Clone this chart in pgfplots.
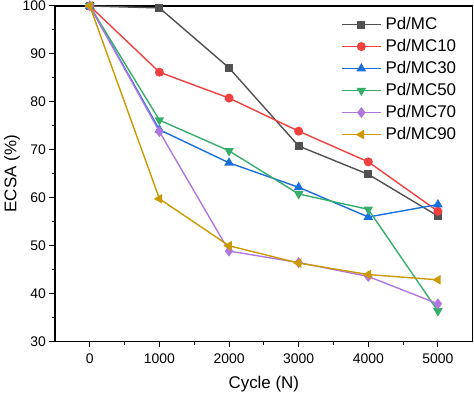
\documentclass[border=0pt]{standalone}
\usepackage{fontspec}
\setmainfont{Liberation Sans}
\usepackage{pgfplots}
\pgfplotsset{compat=1.18}
\definecolor{cgray}{HTML}{515151}
\definecolor{cred}{HTML}{F14040}
\definecolor{cblue}{HTML}{1A6FDF}
\definecolor{cgreen}{HTML}{37AD6B}
\definecolor{cpurple}{HTML}{B177DE}
\definecolor{cgold}{HTML}{CC9900}
\begin{document}
\begin{tikzpicture}
\begin{axis}[
  scale only axis,
  width=417.7bp, height=335.7bp,
  xmin=-500, xmax=5500,
  ymin=30, ymax=100,
  xtick={0,1000,2000,3000,4000,5000},
  ytick={30,40,50,60,70,80,90,100},
  minor x tick num=1,
  minor y tick num=1,
  xtick pos=bottom, ytick pos=left,
  tick align=outside,
  major tick length=5.5bp,
  minor tick length=3bp,
  every tick/.style={black, line width=1bp},
  axis line style={black, line width=1.3bp},
  /pgf/number format/assume math mode=true,
  /pgf/number format/1000 sep={},
  tick label style={font=\fontsize{14}{16}\selectfont},
  xticklabel style={yshift=-3bp},
  label style={font=\fontsize{17}{20}\selectfont},
  xlabel={Cycle (N)},
  ylabel={ECSA (\%)},
  xlabel style={at={(axis description cs:0.5,-0.126)}, anchor=center},
  ylabel style={at={(axis description cs:-0.103,0.5)}, anchor=center},
  clip mode=individual,
  legend style={draw=none, fill=none, inner sep=0pt, outer sep=0pt,
    at={(axis description cs:0.685,0.967)}, anchor=north west,
    font=\fontsize{17}{20}\selectfont, row sep=7.0bp, column sep=0bp,
    nodes={inner sep=0pt, text height=12bp, text depth=3bp}},
  legend cell align=left,
  legend image code/.code={\draw[mark repeat=2, mark phase=2] plot coordinates {(0bp,0bp) (19.5bp,0bp) (39bp,0bp)};},
  every axis plot/.append style={line width=1.4bp},
  mark size=3.5bp,
]
\addplot[cgray, mark=square*, mark size=3.3bp, mark options={solid, fill=cgray}] coordinates {
 (0,100) (1000,99.6) (2000,87.1) (3000,70.8) (4000,64.9) (5000,56.2)};
\addlegendentry{\hspace{4bp}Pd/MC}
\addplot[cred, mark=*, mark size=3.8bp, mark options={solid, fill=cred}] coordinates {
 (0,100) (1000,86.2) (2000,80.8) (3000,73.9) (4000,67.5) (5000,57.2)};
\addlegendentry{\hspace{4bp}Pd/MC10}
\addplot[cblue, mark=triangle*, mark size=4.2bp, mark options={solid, fill=cblue}] coordinates {
 (0,100) (1000,74.2) (2000,67.3) (3000,62.2) (4000,56.0) (5000,58.6)};
\addlegendentry{\hspace{4bp}Pd/MC30}
\addplot[cgreen, mark=triangle*, mark size=4.2bp, mark options={solid, fill=cgreen, rotate=180}] coordinates {
 (0,100) (1000,76.2) (2000,69.8) (3000,60.8) (4000,57.6) (5000,36.4)};
\addlegendentry{\hspace{4bp}Pd/MC50}
\addplot[cpurple, mark=diamond*, mark size=4.4bp, mark options={solid, fill=cpurple}] coordinates {
 (0,100) (1000,73.8) (2000,48.9) (3000,46.5) (4000,43.6) (5000,37.9)};
\addlegendentry{\hspace{4bp}Pd/MC70}
\addplot[cgold, mark=triangle*, mark size=4.2bp, mark options={solid, fill=cgold, rotate=90}] coordinates {
 (0,100) (1000,59.8) (2000,50.0) (3000,46.4) (4000,44.0) (5000,42.9)};
\addlegendentry{\hspace{4bp}Pd/MC90}
\end{axis}
\pgfresetboundingbox
\path ([shift={(-55bp,-53.3bp)}]current axis.south west) rectangle ([shift={(1.3bp,6bp)}]current axis.north east);
\end{tikzpicture}
\end{document}
